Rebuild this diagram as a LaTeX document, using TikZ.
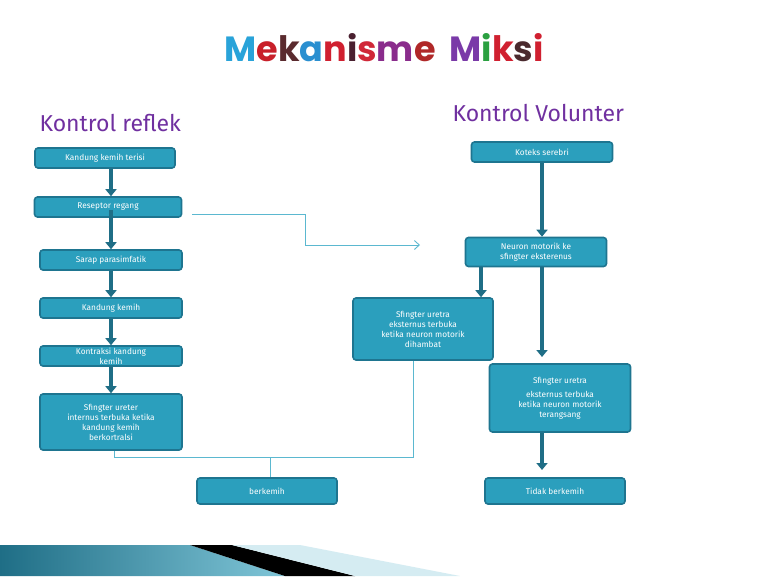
\documentclass[tikz,border=0pt]{standalone}
\usepackage{fontspec}
\setmainfont{Fira Sans}
\newfontfamily\titlefont{Poppins}
\usetikzlibrary{arrows.meta,shadings}
\definecolor{boxfill}{HTML}{2B9FBD}
\definecolor{boxline}{HTML}{1E7590}
\definecolor{thick}{HTML}{1F6E86}
\definecolor{thin}{HTML}{5BB8D0}
\definecolor{purp}{HTML}{7030A0}
\tikzset{
  fbox/.style={draw=boxline, line width=1.6pt, fill=boxfill, rounded corners=3pt, text=white,
    font=\fontsize{8.3}{10}\selectfont, align=center, inner sep=1pt},
  bigarrow/.style={draw=thick, line width=4.5pt, -{Triangle[width=11pt,length=7pt]}},
  thinline/.style={draw=thin, line width=0.9pt},
  heading/.style={text=purp, font=\fontsize{23}{27}\selectfont, anchor=west}
}
\begin{document}
\begin{tikzpicture}[x=1pt,y=-1pt]
\useasboundingbox (0,0) rectangle (768,576);
\fill[white] (0,0) rectangle (768,576);
% title
\node[font=\titlefont\bfseries\fontsize{35}{40}\selectfont] (title) at (384,48) {%
\textcolor[HTML]{29A3D9}{M}\textcolor[HTML]{C8202A}{e}\textcolor[HTML]{5A2A2E}{k}\textcolor[HTML]{2A8FD0}{a}\textcolor[HTML]{D02030}{n}\textcolor[HTML]{4A2030}{i}\textcolor[HTML]{D02838}{s}\textcolor[HTML]{8A2C8C}{m}\textcolor[HTML]{B02828}{e}\hspace{14pt}\textcolor[HTML]{7A3AA8}{M}\textcolor[HTML]{2AA040}{i}\textcolor[HTML]{D02030}{k}\textcolor[HTML]{4A2A2E}{s}\textcolor[HTML]{D02030}{i}};
\node[heading] (h1) at (36,123) {Kontrol reflek};
\node[heading] (h2) at (449,113) {Kontrol Volunter};
% left column
\node[fbox, minimum width=140pt, minimum height=20pt] (b1) at (105,158) {Kandung kemih terisi};
\node[fbox, minimum width=147pt, minimum height=20pt] (b2) at (108,207) {Reseptor regang};
\node[fbox, minimum width=142pt, minimum height=20pt] (b3) at (111,260) {Sarap parasimfatik};
\node[fbox, minimum width=142pt, minimum height=20pt] (b4) at (111,308) {Kandung kemih};
\node[fbox, minimum width=142pt, minimum height=20pt] (b5) at (111,356) {Kontraksi kandung\\kemih};
\node[fbox, minimum width=142pt, minimum height=56pt] (b6) at (111,422) {Sfingter ureter\\internus terbuka ketika\\kandung kemih\\berkortralsi};
\node[fbox, minimum width=140pt, minimum height=26pt] (bk) at (267,491) {berkemih};
% right column
\node[fbox, minimum width=141pt, minimum height=20pt] (r1) at (542,152) {Koteks serebri};
\node[fbox, minimum width=141pt, minimum height=29pt] (r2) at (536,252) {Neuron motorik ke\\sfingter eksterenus};
\node[fbox, minimum width=140pt, minimum height=62pt] (r3) at (423,329) {Sfingter uretra\\eksternus terbuka\\ketika neuron motorik\\dihambat};
\node[fbox, minimum width=141pt, minimum height=68pt] (r4) at (560,398) {Sfingter uretra\\[4pt]eksternus terbuka\\ketika neuron motorik\\terangsang};
\node[fbox, minimum width=140pt, minimum height=26pt] (tb) at (555,491) {Tidak berkemih};
% thick arrows
\draw[bigarrow] (b1.south -| 111,0) -- (b2.north -| 111,0);
\draw[bigarrow] ([yshift=8pt]b2.south -| 111,0) -- (b3.north);
\draw[bigarrow] (b3.south) -- (b4.north);
\draw[bigarrow] (b4.south) -- (b5.north);
\draw[bigarrow] (b5.south) -- (b6.north);
\draw[bigarrow] (r1.south) -- (r1.south |- r2.north);
\draw[bigarrow] (r2.south -| 481,0) -- (r3.north -| 481,0);
\draw[bigarrow] (r2.south -| 542,0) -- (542,357);
\draw[bigarrow] (r4.south -| 542,0) -- (542,470);
% thin connectors
\coordinate (t1) at (192,214);
\coordinate (t2) at (420,245);
\draw[thinline, -{Straight Barb[length=5pt,width=9pt]}] (t1) -- (305,214) -- (305,245) -- (t2);
\draw[thinline] (b6.south -| 114,0) -- (114,457) -- (270,457);
\draw[thinline] (r3.south -| 413,0) -- (413,457) -- (270,457);
\draw[thinline] (270,457) -- (bk.north -| 270,0);
% bottom band
\shade[left color=thick, right color=boxfill!60] (0,545) -- (190,545) -- (285,576) -- (0,576) -- cycle;
\fill[black] (190,545) -- (232,545) -- (355,576) -- (285,576) -- cycle;
\fill[boxfill!20] (232,545) -- (300,545) -- (460,576) -- (355,576) -- cycle;
\end{tikzpicture}
\end{document}
